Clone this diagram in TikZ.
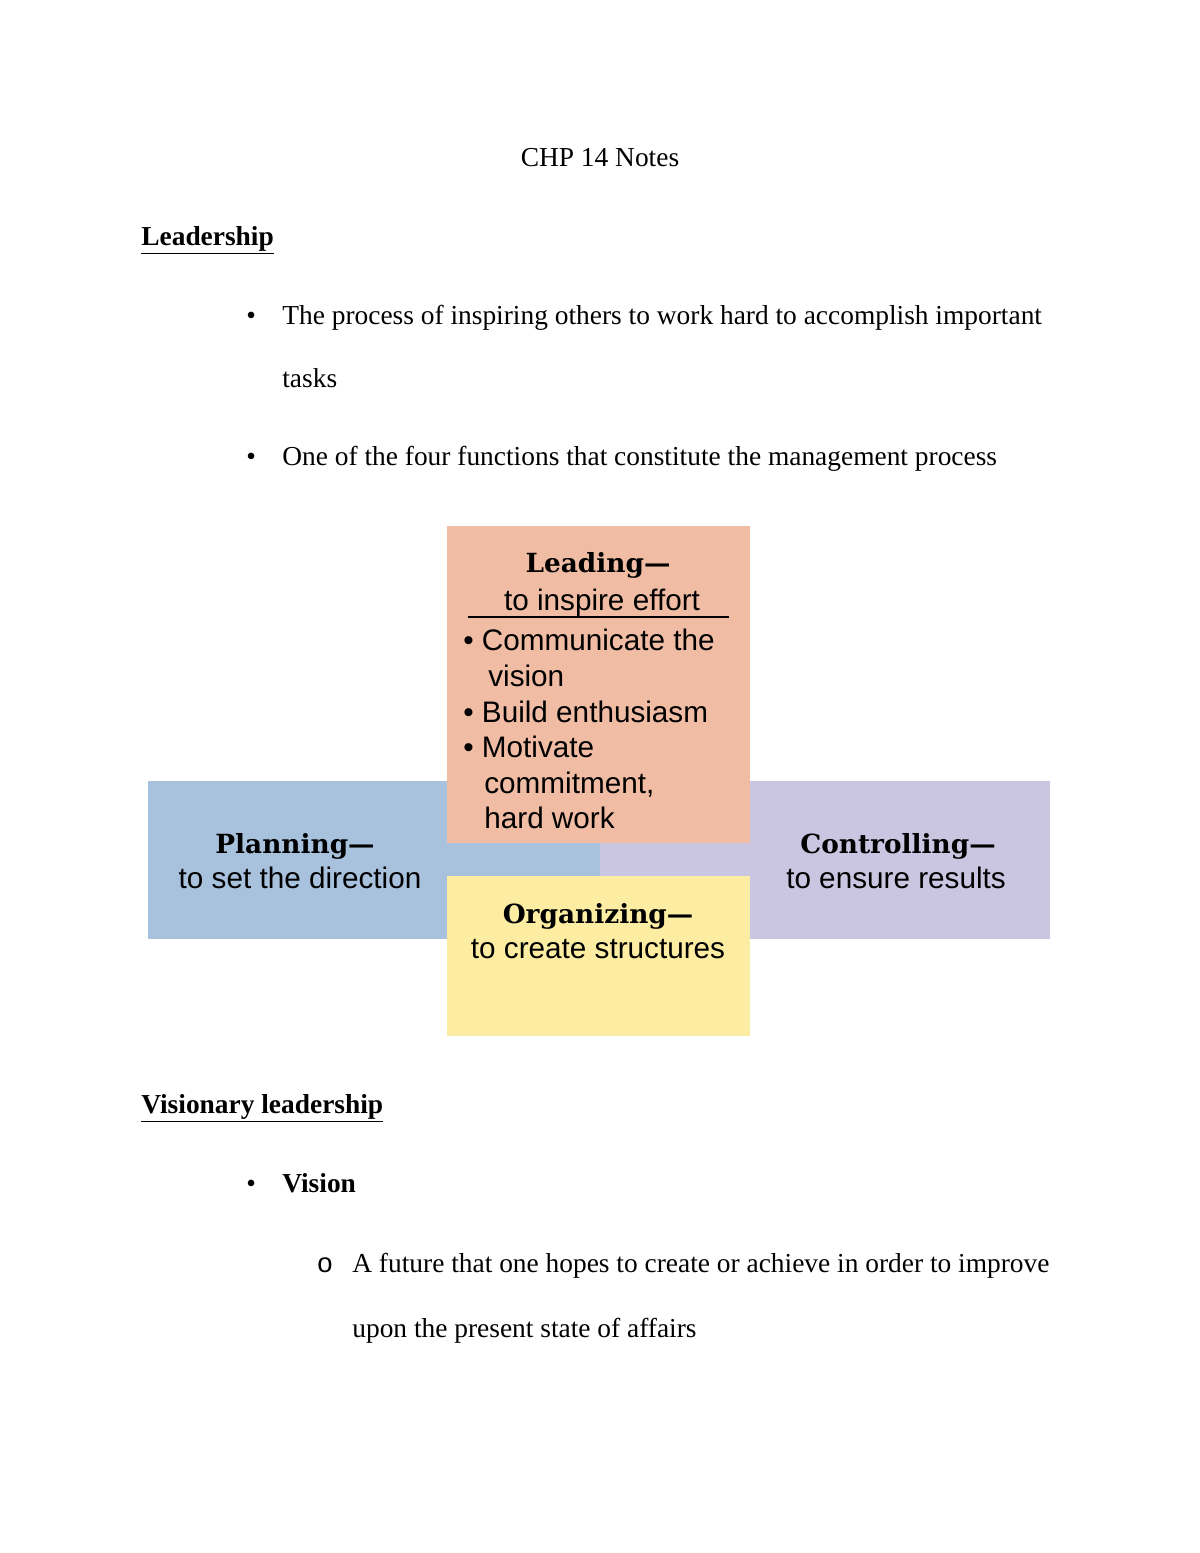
\documentclass[tikz,border=0pt]{standalone}
\usepackage{fontspec}
\setmainfont{Liberation Serif}
\newfontfamily\dsans{Liberation Sans}
\newfontfamily\hserif{DejaVu Serif}
\definecolor{cLead}{RGB}{240,188,164}
\definecolor{cPlan}{RGB}{168,194,222}
\definecolor{cCtrl}{RGB}{202,197,224}
\definecolor{cOrg}{RGB}{253,237,162}
\begin{document}
\begin{tikzpicture}[x=0.02cm,y=-0.02cm,
  doc/.style={anchor=base west,inner sep=0,font=\fontsize{15.6pt}{18pt}\selectfont},
  head/.style={font=\hserif\fontsize{15pt}{18pt}\selectfont\bfseries,inner sep=0},
  sub/.style={font=\dsans\fontsize{16.9pt}{20pt}\selectfont,inner sep=0},
  item/.style={anchor=base west,font=\dsans\fontsize{16.9pt}{20pt}\selectfont,inner sep=0}]
\useasboundingbox[fill=white] (0,0) rectangle (1200,1553);
\node[doc,anchor=base] (title) at (600,166) {CHP 14 Notes};
\node[doc] (h1) at (141,245) {\bfseries\underline{Leadership}};
\node[doc] (b1) at (246,324) {\textbullet};
\node[doc] (t1) at (282,324) {The process of inspiring others to work hard to accomplish important};
\node[doc] (t1b) at (282,387) {tasks};
\node[doc] (b2) at (246,465) {\textbullet};
\node[doc] (t2) at (282,465) {One of the four functions that constitute the management process};
% diagram
\fill[cPlan] (148,781) rectangle (600,939);
\fill[cCtrl] (600,781) rectangle (1050,939);
\fill[cLead] (447,526) rectangle (750,843);
\fill[cOrg] (447,876) rectangle (750,1036);
\node[head,anchor=base] (lh) at (598,572) {Leading—};
\node[sub,anchor=base] (ls) at (602,610) {to inspire effort};
\draw[line width=1.2pt] (468,617) -- (729,617);
\node[item] (l1) at (463,650) {• Communicate the};
\node[item] (l2) at (488,686) {vision};
\node[item] (l3) at (463,722) {• Build enthusiasm};
\node[item] (l4) at (463,757) {• Motivate};
\node[item] (l5) at (484,793) {commitment,};
\node[item] (l6) at (484,828) {hard work};
\node[head,anchor=base] (ph) at (295,853) {Planning—};
\node[sub,anchor=base] (ps) at (300,888) {to set the direction};
\node[head,anchor=base] (ch) at (898,853) {Controlling—};
\node[sub,anchor=base] (cs) at (896,888) {to ensure results};
\node[head,anchor=base] (oh) at (598,923) {Organizing—};
\node[sub,anchor=base] (os) at (598,958) {to create structures};
% bottom
\node[doc] (h2) at (141,1113) {\bfseries\underline{Visionary leadership}};
\node[doc] (b3) at (246,1192) {\textbullet};
\node[doc] (t3) at (282,1192) {\bfseries Vision};
\node[doc] (b4) at (317,1272) {\dsans o};
\node[doc] (t4) at (352,1272) {A future that one hopes to create or achieve in order to improve};
\node[doc] (t4b) at (352,1337) {upon the present state of affairs};
\end{tikzpicture}
\end{document}
